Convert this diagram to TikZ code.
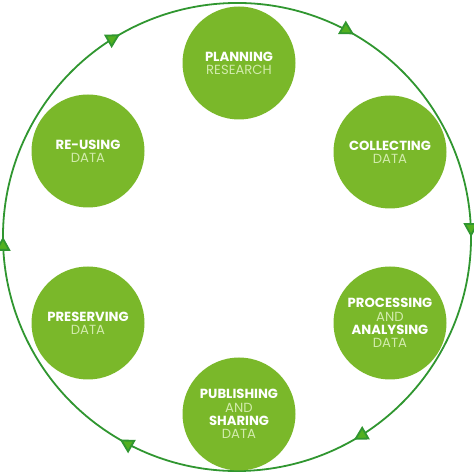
\documentclass[tikz,border=0pt]{standalone}
\usepackage{fontspec}
\setmainfont{Poppins}
\usetikzlibrary{decorations.markings,arrows.meta}
\definecolor{stagegreen}{RGB}{122,184,42}
\definecolor{ringgreen}{RGB}{48,150,48}
\definecolor{tipgreen}{RGB}{82,176,32}
\definecolor{palegreen}{RGB}{210,235,172}
\newcommand{\pale}[1]{{\mdseries\color{palegreen}#1}}

\begin{document}
\begin{tikzpicture}[x=1pt,y=1pt,
    stage/.style={circle,fill=stagegreen,minimum size=113pt,inner sep=0pt,align=center,text=white,
        font=\fontsize{13.2}{13.2}\selectfont\bfseries},
    ring/.style={draw=ringgreen,line width=1.8pt,postaction={decorate},
        decoration={markings,mark=between positions 0.0833 and 1 step 0.1667
            with {\arrow{Triangle[length=14pt,width=15pt,fill=tipgreen]}}}}]
    \useasboundingbox (0,0) rectangle (474,474);
    \draw[ring] (237,237) ++(150:234) arc[start angle=150,end angle=-210,radius=234];
    \node[stage] (plan) at (239,411) {PLANNING\\\pale{RESEARCH}};
    \node[stage] (collect) at (390,322) {COLLECTING\\\pale{DATA}};
    \node[stage] (process) at (390,151) {PROCESSING\\\pale{AND}\\ANALYSING\\\pale{DATA}};
    \node[stage] (publish) at (239,60) {PUBLISHING\\\pale{AND}\\SHARING\\\pale{DATA}};
    \node[stage] (preserve) at (88,151) {PRESERVING\\\pale{DATA}};
    \node[stage] (reuse) at (88,323) {RE-USING\\\pale{DATA}};
\end{tikzpicture}
\end{document}
